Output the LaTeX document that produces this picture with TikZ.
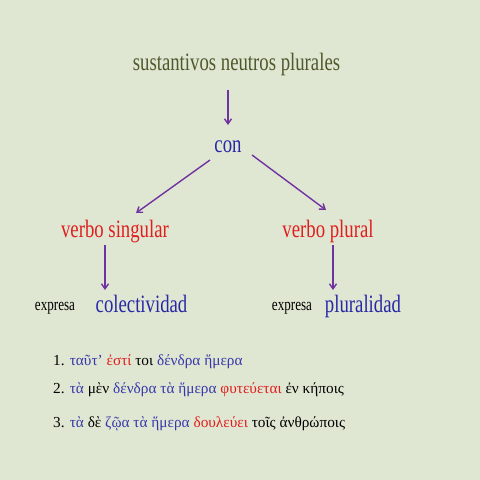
\documentclass[tikz,border=0pt]{standalone}
\usepackage{fontspec}
\setmainfont{Liberation Serif}
\usetikzlibrary{arrows.meta}
\definecolor{bg}{RGB}{223,231,211}
\definecolor{olive}{RGB}{78,88,42}
\definecolor{dblue}{RGB}{40,40,165}
\definecolor{gblue}{RGB}{55,55,170}
\definecolor{dred}{RGB}{225,30,30}
\definecolor{arrowc}{RGB}{112,50,160}
\tikzset{
  big/.style={font=\fontsize{25}{28}\selectfont, inner sep=0pt, anchor=base},
  small/.style={font=\fontsize{17.5}{20}\selectfont, inner sep=0pt, anchor=base, text=black},
  greek/.style={font=\fontsize{15.3}{18}\selectfont, inner sep=0pt, anchor=base west, text=black},
  conn/.style={draw=arrowc, line width=1.4pt, -{Straight Barb[length=5pt,width=7pt]}}
}
\newcommand{\cx}[1]{\scalebox{0.75}[1]{#1}}
\newcommand{\gb}[1]{\textcolor{gblue}{#1}}
\newcommand{\gr}[1]{\textcolor{dred}{#1}}
\begin{document}
\begin{tikzpicture}[x=1pt,y=-1pt]
\fill[bg] (0,0) rectangle (480,480);
\useasboundingbox (0,0) rectangle (480,480);

\node[big, text=olive] (title) at (236.5,70) {\cx{sustantivos neutros plurales}};
\node[big, text=dblue] (con) at (228,152) {\cx{con}};
\node[big, text=dred] (vs) at (115,237) {\cx{verbo singular}};
\node[big, text=dred] (vp) at (328,237) {\cx{verbo plural}};
\node[small] (ex1) at (55,310) {\cx{expresa}};
\node[big, text=dblue] (col) at (141.5,312) {\cx{colectividad}};
\node[small] (ex2) at (292,310) {\cx{expresa}};
\node[big, text=dblue] (plu) at (363,312) {\cx{pluralidad}};

\coordinate (a1s) at (228,90);  \coordinate (a1e) at (228,125);
\coordinate (a2s) at (210,160); \coordinate (a2e) at (136,213);
\coordinate (a3s) at (252,155); \coordinate (a3e) at (326,210);
\coordinate (a4s) at (105,245); \coordinate (a4e) at (105,290);
\coordinate (a5s) at (333,245); \coordinate (a5e) at (333,290);
\draw[conn] (a1s) -- (a1e);
\draw[conn] (a2s) -- (a2e);
\draw[conn] (a3s) -- (a3e);
\draw[conn] (a4s) -- (a4e);
\draw[conn] (a5s) -- (a5e);

\node[greek] (g1) at (53,365) {1. \gb{ταῦτ\symbol{39}} \gr{ἐστί} τοι \gb{δένδρα ἥμερα}};
\node[greek] (g2) at (53,393) {2. \gb{τὰ} μὲν \gb{δένδρα τὰ ἥμερα} \gr{φυτεύεται} ἐν κήποις};
\node[greek] (g3) at (53,427) {3. \gb{τὰ} δὲ \gb{ζῷα τὰ ἥμερα} \gr{δουλεύει} τοῖς ἀνθρώποις};
\end{tikzpicture}
\end{document}
